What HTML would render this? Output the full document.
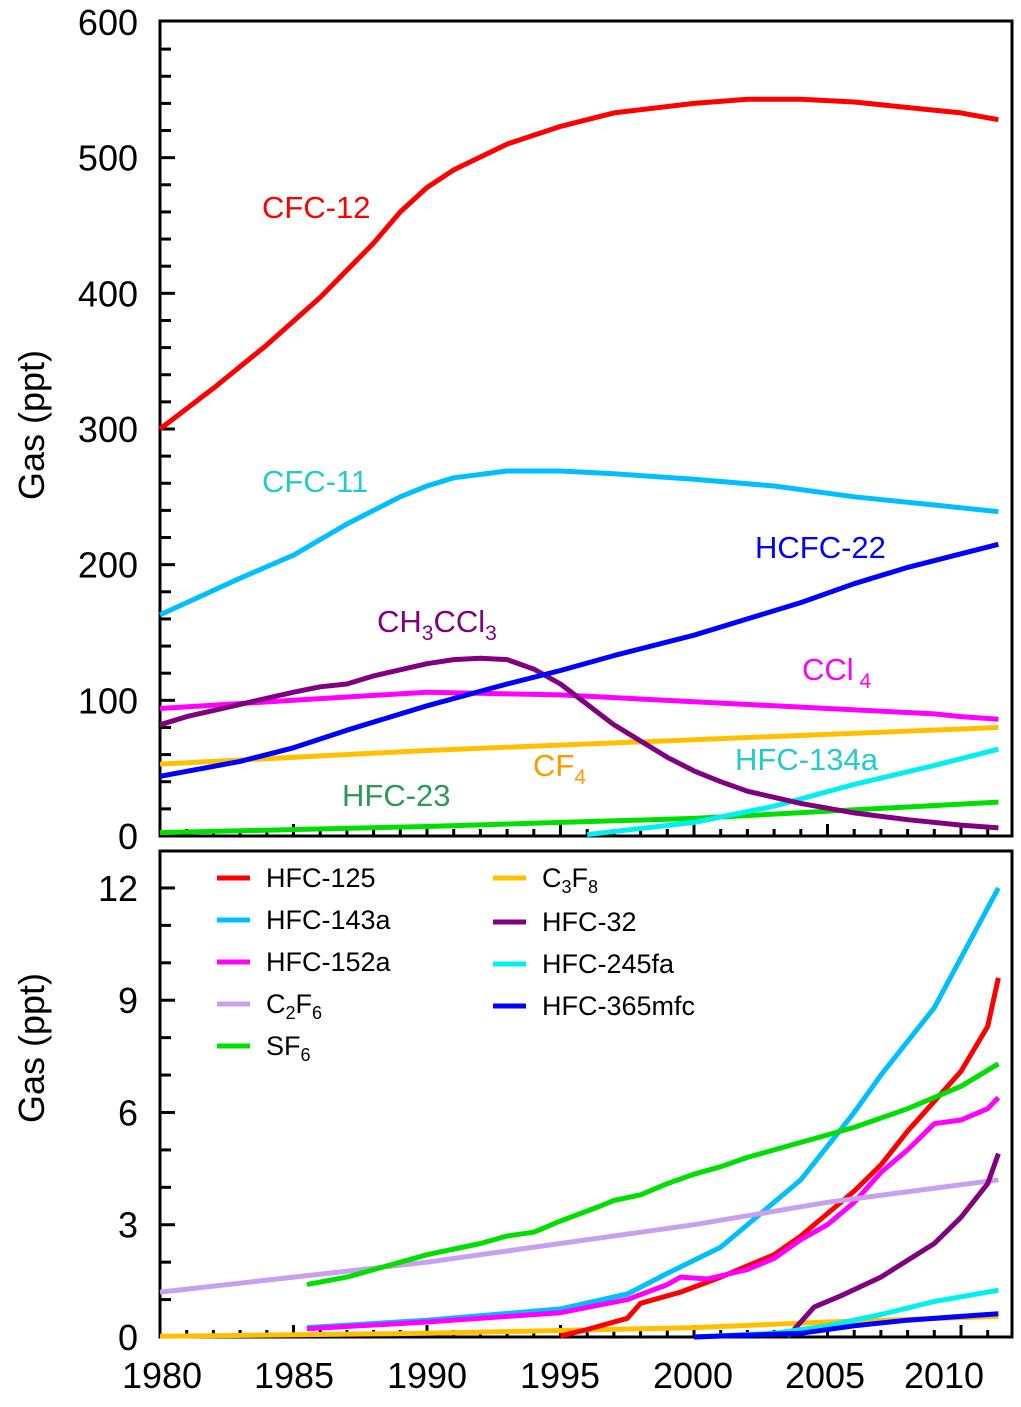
<!DOCTYPE html>
<html><head><meta charset="utf-8"><style>
html,body{margin:0;padding:0;background:#fff}
svg{display:block;font-family:"Liberation Sans",Arial,sans-serif}
</style></head><body>
<svg id="s" width="1021" height="1407" xmlns="http://www.w3.org/2000/svg"></svg>
<script>
const S=document.getElementById('s');let h='';
const X=y=>160+(y-1980)*26.7;
const YT=v=>836-v*1.3567;
const YB=v=>1337-v*37.42;
function line(pts,Y,c,w){w=w||5;h+=`<polyline fill="none" stroke="${c}" stroke-width="${w}" stroke-linejoin="round" points="${pts.map(p=>X(p[0]).toFixed(1)+','+Y(p[1]).toFixed(1)).join(' ')}"/>`;}
function t(x,y,s,c,sz,anc){h+=`<text x="${x}" y="${y}" fill="${c||'#000'}" font-size="${sz||31}" text-anchor="${anc||'start'}">${s}</text>`;}
h+=`<rect x="160" y="21" width="852" height="815" fill="none" stroke="#000" stroke-width="3"/>`;
for(let v=20;v<600;v+=20){let y=YT(v);h+=`<line x1="160" x2="${v%100?171:175}" y1="${y}" y2="${y}" stroke="#000" stroke-width="3"/>`;}
for(let yr=1981;yr<=2011;yr++){h+=`<line x1="${X(yr)}" x2="${X(yr)}" y1="836" y2="${yr%5?829:824}" stroke="#000" stroke-width="3"/>`;}
[0,100,200,300,400,500,600].forEach(v=>t(138,YT(v)+13,v,'#000',36,'end'));
h+=`<rect x="160" y="851" width="852" height="486" fill="none" stroke="#000" stroke-width="3"/>`;
for(let v=1;v<13;v++){let y=YB(v);h+=`<line x1="160" x2="${v%3?171:175}" y1="${y}" y2="${y}" stroke="#000" stroke-width="3"/>`;}
for(let yr=1981;yr<=2011;yr++){h+=`<line x1="${X(yr)}" x2="${X(yr)}" y1="1337" y2="${yr%5?1330:1325}" stroke="#000" stroke-width="3"/>`;}
[0,3,6,9,12].forEach(v=>t(138,YB(v)+13,v,'#000',36,'end'));
[[1980,162],[1985,294],[1990,427],[1995,560],[2000,693],[2005,825],[2010,944]].forEach(a=>t(a[1],1388,a[0],'#000',36,'middle'));
h+=`<text transform="translate(44,425) rotate(-90)" font-size="36" text-anchor="middle">Gas (ppt)</text>`;
h+=`<text transform="translate(44,1048) rotate(-90)" font-size="36" text-anchor="middle">Gas (ppt)</text>`;
line([[1980,2.5],[1990,7],[2000,13],[2011.4,25]],YT,'#00e000');
line([[1980,53],[1990,63],[2000,71],[2011.4,80]],YT,'#ffc000');
line([[1996,1],[2000,10],[2003,22],[2006,38],[2009,52],[2011.4,64]],YT,'#00f0f0');
line([[1980,94],[1985,100],[1990,106],[1995,104],[2000,99],[2005,94],[2009,90],[2010,88],[2011.4,86]],YT,'#ff00ff');
line([[1980,82],[1981,88],[1983,97],[1985,106],[1986,110],[1987,112],[1988,118],[1990,127],[1991,130],[1992,131],[1993,130],[1994,123],[1995,112],[1996,97],[1997,82],[1998,70],[1999,58],[2000,48],[2001,40],[2002,33],[2004,24],[2006,17],[2008,12],[2010,8],[2011.4,6]],YT,'#800080');
line([[1980,44],[1983,55],[1985,65],[1987,78],[1990,96],[1993,112],[1995,122],[1997,133],[2000,148],[2002,160],[2004,172],[2006,186],[2008,198],[2010,208],[2011.4,215]],YT,'#0000ff');
line([[1980,163],[1983,190],[1985,207],[1987,230],[1989,250],[1990,258],[1991,264],[1993,269],[1995,269],[1997,267],[2000,263],[2003,258],[2006,250],[2009,244],[2011.4,239]],YT,'#00bfff');
line([[1980,300],[1982,330],[1984,362],[1986,397],[1988,437],[1989,460],[1990,478],[1991,491],[1993,510],[1995,523],[1997,533],[2000,540],[2002,543],[2004,543],[2006,541],[2008,537],[2010,533],[2011.4,528]],YT,'#ff0000');
t(262,218,'CFC-12','#ff0000',31);t(262,492,'CFC-11','#22cccc',31);t(755,558,'HCFC-22','#0000ff',31);
t(377,632,'CH<tspan font-size="21" dy="8">3</tspan><tspan dy="-8">CCl</tspan><tspan font-size="21" dy="8">3</tspan>','#800080',31);
t(802,680,'CCl<tspan font-size="21" dy="8"> 4</tspan>','#ff00ff',31);
t(533,776,'CF<tspan font-size="21" dy="8">4</tspan>','#ff9900',31);
t(735,770,'HFC-134a','#22cccc',31);t(342,806,'HFC-23','#2e9a5a',31);
line([[1980,0.02],[1990,0.1],[2000,0.25],[2005,0.4],[2011.4,0.55]],YB,'#ffc000');
line([[1995,0.03],[1996,0.2],[1997.5,0.5],[1998,0.9],[1999.5,1.2],[2001,1.6],[2003,2.2],[2004,2.7],[2005,3.3],[2006,3.9],[2007,4.6],[2008,5.5],[2009,6.3],[2010,7.1],[2011,8.3],[2011.4,9.6]],YB,'#ff0000');
line([[1985.5,0.25],[1990,0.45],[1995,0.75],[1997.5,1.15],[1999,1.7],[2001,2.4],[2002.5,3.3],[2004,4.2],[2005,5.1],[2006,6.0],[2007,7.0],[2009,8.8],[2011.4,12.0]],YB,'#00bfff');
line([[1985.5,0.22],[1990,0.4],[1995,0.65],[1997.5,1.0],[1999,1.4],[1999.5,1.6],[2000.5,1.55],[2002,1.8],[2003,2.1],[2004,2.6],[2005,3.0],[2006,3.6],[2007,4.4],[2008,5.0],[2009,5.7],[2010,5.8],[2011,6.1],[2011.4,6.4]],YB,'#ff00ff');
line([[1980,1.2],[1990,2.0],[2000,3.0],[2005,3.6],[2011.4,4.2]],YB,'#c8a0f0');
line([[1985.5,1.4],[1987,1.6],[1989,2.0],[1990,2.2],[1992,2.5],[1993,2.7],[1994,2.8],[1995,3.1],[1996.5,3.5],[1997,3.65],[1998,3.8],[1999,4.1],[2000,4.35],[2001,4.55],[2002,4.8],[2003,5.0],[2004,5.2],[2006,5.6],[2008,6.1],[2010,6.7],[2011.4,7.3]],YB,'#00e000');
line([[2003.5,0],[2004.5,0.8],[2005.5,1.1],[2007,1.6],[2009,2.5],[2010,3.2],[2011,4.1],[2011.4,4.9]],YB,'#800080');
line([[2000,0],[2003,0.1],[2005,0.3],[2007,0.6],[2009,0.95],[2011.4,1.25]],YB,'#00f0f0');
line([[2000,0],[2004,0.1],[2006,0.3],[2008,0.45],[2010,0.55],[2011.4,0.62]],YB,'#0000ff');
function lg(x,y,c,txt){h+=`<line x1="${x}" x2="${x+33}" y1="${y}" y2="${y}" stroke="${c}" stroke-width="5"/>`;t(x+49,y+9,txt,'#000',27);}
lg(217,878,'#ff0000','HFC-125');lg(217,920,'#00bfff','HFC-143a');lg(217,962,'#ff00ff','HFC-152a');
lg(217,1004,'#c8a0f0','C<tspan font-size="18" dy="6">2</tspan><tspan dy="-6">F</tspan><tspan font-size="18" dy="6">6</tspan>');
lg(217,1046,'#00e000','SF<tspan font-size="18" dy="6">6</tspan>');
lg(493,878,'#ffc000','C<tspan font-size="18" dy="6">3</tspan><tspan dy="-6">F</tspan><tspan font-size="18" dy="6">8</tspan>');
lg(493,922,'#800080','HFC-32');lg(493,964,'#00f0f0','HFC-245fa');lg(493,1006,'#0000ff','HFC-365mfc');
S.innerHTML=h;
</script>
</body></html>
